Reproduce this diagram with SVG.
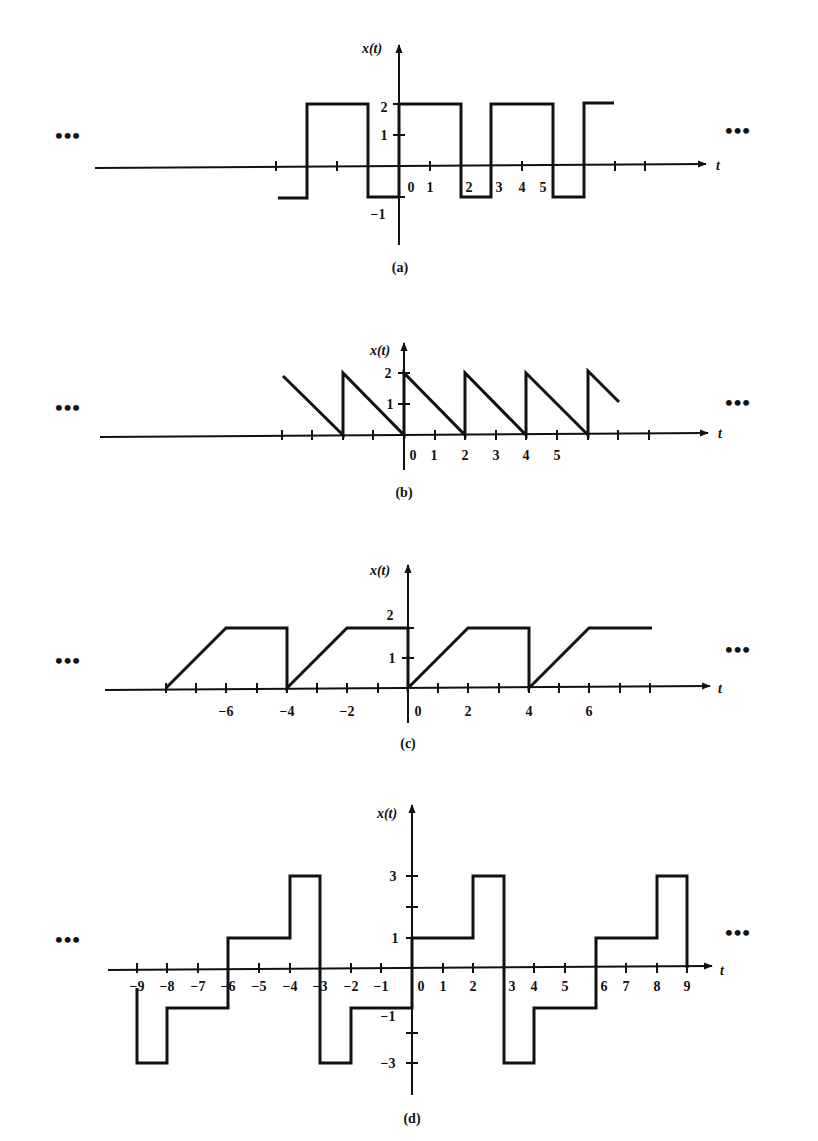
<svg xmlns="http://www.w3.org/2000/svg" width="818" height="1141" viewBox="0 0 818 1141">
<style>
.ax{stroke:#111;stroke-width:2;fill:none}
.wv{stroke:#111;stroke-width:3;fill:none;stroke-linejoin:miter}
.tk{stroke:#111;stroke-width:2}
text{font-family:"Liberation Serif",serif;font-weight:bold;font-size:14px;fill:#111}
.c{text-anchor:middle}
.r{text-anchor:end}
.it{font-style:italic}
.dots{font-size:22px;letter-spacing:1px}
</style>
<defs>
<marker id="ar" viewBox="0 0 10 10" refX="9" refY="5" markerWidth="9" markerHeight="9" orient="auto" markerUnits="userSpaceOnUse"><path d="M0,1 L10,5 L0,9 Z" fill="#111"/></marker>
</defs>
<rect width="818" height="1141" fill="#fff"/>

<g id="panel-a">
<line class="ax" x1="95" y1="168" x2="706" y2="164" marker-end="url(#ar)"/>
<line class="ax" x1="399" y1="245" x2="399" y2="45" marker-end="url(#ar)"/>
<path class="tk" d="M276 161V171M307 161V171M337 161V171M368 161V171M430 161V171M461 161V171M491 161V171M522 161V171M553 161V171M584 161V171M615 161V171M645 161V171M393 135H405M393 104H405M393 197H405"/>
<path class="wv" d="M278 198H307V104H368V197H399V104H461V197H491V104H553V197H584V103H614"/>
<text x="372" y="53" class="c it">x(t)</text>
<text x="716" y="170" class="it">t</text>
<text x="384" y="112" class="c">2</text>
<text x="384" y="140" class="c">1</text>
<text x="378" y="219" class="c">−1</text>
<text x="411" y="192" class="c">0</text>
<text x="430" y="192" class="c">1</text>
<text x="469" y="192" class="c">2</text>
<text x="499" y="192" class="c">3</text>
<text x="522" y="192" class="c">4</text>
<text x="543" y="192" class="c">5</text>
<text x="400" y="272" class="c">(a)</text>
<text x="68" y="143" class="c dots">•••</text>
<text x="738" y="138" class="c dots">•••</text>
</g>

<g id="panel-b">
<line class="ax" x1="100" y1="437" x2="708" y2="433" marker-end="url(#ar)"/>
<line class="ax" x1="404" y1="470" x2="404" y2="343" marker-end="url(#ar)"/>
<path class="tk" d="M282 430V440M312 430V440M343 430V440M373 430V440M435 430V440M465 430V440M496 430V440M526 430V440M557 430V440M588 430V440M618 430V440M649 430V440M398 404H410M398 373H410"/>
<path class="wv" d="M283 376L343 435V373L404 435V373L465 435V373L526 435V373L588 435V371L619 402"/>
<text x="380" y="355" class="c it">x(t)</text>
<text x="718" y="438" class="it">t</text>
<text x="388" y="378" class="c">2</text>
<text x="390" y="409" class="c">1</text>
<text x="413" y="460" class="c">0</text>
<text x="434" y="460" class="c">1</text>
<text x="465" y="460" class="c">2</text>
<text x="496" y="460" class="c">3</text>
<text x="526" y="460" class="c">4</text>
<text x="557" y="460" class="c">5</text>
<text x="404" y="497" class="c">(b)</text>
<text x="68" y="415" class="c dots">•••</text>
<text x="738" y="410" class="c dots">•••</text>
</g>

<g id="panel-c">
<line class="ax" x1="105" y1="690" x2="710" y2="686" marker-end="url(#ar)"/>
<line class="ax" x1="408" y1="723" x2="408" y2="565" marker-end="url(#ar)"/>
<path class="tk" d="M166 683V693M196 683V693M226 683V693M257 683V693M287 683V693M317 683V693M347 683V693M378 683V693M438 683V693M468 683V693M499 683V693M529 683V693M559 683V693M589 683V693M620 683V693M650 683V693M402 658H414M402 628H414"/>
<path class="wv" d="M166 688L226 628H287V688L347 628H408V688L468 628H529V688L589 628H652"/>
<text x="380" y="575" class="c it">x(t)</text>
<text x="718" y="693" class="it">t</text>
<text x="390" y="620" class="c">2</text>
<text x="392" y="663" class="c">1</text>
<text x="226" y="716" class="c">−6</text>
<text x="287" y="716" class="c">−4</text>
<text x="347" y="716" class="c">−2</text>
<text x="418" y="716" class="c">0</text>
<text x="468" y="716" class="c">2</text>
<text x="529" y="716" class="c">4</text>
<text x="589" y="716" class="c">6</text>
<text x="408" y="748" class="c">(c)</text>
<text x="68" y="668" class="c dots">•••</text>
<text x="738" y="657" class="c dots">•••</text>
</g>

<g id="panel-d">
<line class="ax" x1="108" y1="970" x2="712" y2="966" marker-end="url(#ar)"/>
<line class="ax" x1="412" y1="1095" x2="412" y2="805" marker-end="url(#ar)"/>
<path class="tk" d="M137 963V973M167 963V973M198 963V973M228 963V973M259 963V973M290 963V973M320 963V973M351 963V973M381 963V973M443 963V973M473 963V973M504 963V973M534 963V973M565 963V973M596 963V973M626 963V973M657 963V973M687 963V973M406 876H418M406 907H418M406 938H418M406 1033H418M406 1063H418"/>
<path class="wv" d="M137 988V1063H167V1008H228V938H290V876H320V1063H351V1008H412V938H473V876H504V1063H534V1008H596V938H657V876H687V968"/>
<text x="387" y="818" class="c it">x(t)</text>
<text x="720" y="975" class="it">t</text>
<text x="393" y="881" class="c">3</text>
<text x="395" y="943" class="c">1</text>
<text x="388" y="1021" class="c">−1</text>
<text x="388" y="1068" class="c">−3</text>
<text x="137" y="991" class="c">−9</text>
<text x="167" y="991" class="c">−8</text>
<text x="198" y="991" class="c">−7</text>
<text x="228" y="991" class="c">−6</text>
<text x="259" y="991" class="c">−5</text>
<text x="290" y="991" class="c">−4</text>
<text x="320" y="991" class="c">−3</text>
<text x="351" y="991" class="c">−2</text>
<text x="381" y="991" class="c">−1</text>
<text x="421" y="991" class="c">0</text>
<text x="443" y="991" class="c">1</text>
<text x="473" y="991" class="c">2</text>
<text x="512" y="991" class="c">3</text>
<text x="534" y="991" class="c">4</text>
<text x="565" y="991" class="c">5</text>
<text x="604" y="991" class="c">6</text>
<text x="626" y="991" class="c">7</text>
<text x="657" y="991" class="c">8</text>
<text x="687" y="991" class="c">9</text>
<text x="412" y="1123" class="c">(d)</text>
<text x="68" y="947" class="c dots">•••</text>
<text x="738" y="940" class="c dots">•••</text>
</g>
</svg>
